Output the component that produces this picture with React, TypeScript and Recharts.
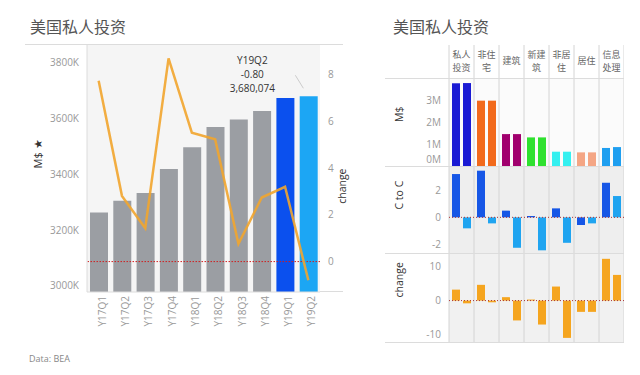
import { ComposedChart, BarChart, Bar, Line, XAxis, YAxis, CartesianGrid, ReferenceLine, ReferenceDot, Cell } from 'recharts';

// left chart: private investment level (K$) and q/q change
const quarters = ['Y17Q1', 'Y17Q2', 'Y17Q3', 'Y17Q4', 'Y18Q1', 'Y18Q2', 'Y18Q3', 'Y18Q4', 'Y19Q1', 'Y19Q2'];
const investmentK = [3263, 3305, 3333, 3419, 3497, 3570, 3597, 3627, 3674, 3680.074];
const changeRate = [7.73, 2.81, 1.43, 8.69, 5.51, 5.23, 0.76, 2.74, 3.2, -0.8];
const quarterColors = ['#9b9ea3', '#9b9ea3', '#9b9ea3', '#9b9ea3', '#9b9ea3', '#9b9ea3', '#9b9ea3', '#9b9ea3', '#0b50ee', '#1ca6f4'];
const leftTicks = [3000, 3200, 3400, 3600, 3800];
const rightTicks = [0, 2, 4, 6, 8];

// right panel: segments, previous quarter vs last quarter
const segments = ['私人投资', '非住宅', '建筑', '新建筑', '非居住', '居住', '信息处理'];
const segmentColors = ['#1b1bd4', '#f26a1c', '#a1006e', '#2fe12f', '#35f0f0', '#f4a685', '#1f9ff0'];
const levelPrev = [3.76, 2.97, 1.45, 1.3, 0.65, 0.62, 0.82];
const levelLast = [3.77, 2.97, 1.45, 1.3, 0.65, 0.62, 0.86];
const ctocPrev = [3.23, 3.48, 0.5, 0.1, 0.67, -0.57, 2.58];
const ctocLast = [-0.82, -0.45, -2.27, -2.46, -1.9, -0.45, 1.59];
const changePrev = [3.2, 4.6, 1.0, 0.3, 4.1, -3.3, 12.2];
const changeLast = [-0.8, -0.5, -5.8, -7.0, -10.9, -3.3, 7.5];

const FONT = "'Open Sans', 'Noto Sans', sans-serif";
const CJK = "'Noto Sans CJK SC', sans-serif";
const tickStyle = { fontSize: 10, fill: '#999', fontFamily: FONT };

const leftData = quarters.map((q, i) => ({ q, inv: investmentK[i], chg: changeRate[i] }));
const levelData = segments.map((s, i) => ({ s, a: levelPrev[i], b: levelLast[i] }));
const ctocData = segments.map((s, i) => ({ s, a: ctocPrev[i], b: ctocLast[i] }));
const changeData = segments.map((s, i) => ({ s, a: changePrev[i], b: changeLast[i] }));

const PANEL_W = 239;
const AXIS_W = 64;
const COL_W = (PANEL_W - AXIS_W) / segments.length;
const colLines = segments.map((_, i) => AXIS_W + i * COL_W).concat([PANEL_W]);

const Annotation = ({ viewBox }: any) => {
  const x = viewBox.x + viewBox.width / 2;
  const y = viewBox.y + viewBox.height / 2;
  const last = quarters.length - 1;
  const cx = x - 56;
  return (
    <g fontFamily={FONT} fontSize={10} fill="#333" textAnchor="middle">
      <text x={cx} y={y - 32}>{quarters[last]}</text>
      <text x={cx} y={y - 18}>{changeRate[last].toFixed(2)}</text>
      <text x={cx} y={y - 4}>{Math.round(investmentK[last] * 1000).toLocaleString('en-US')}</text>
      <line x1={x - 13} y1={y - 21} x2={x - 5} y2={y - 8} stroke="#ccc" />
    </g>
  );
};

const HeaderTick = ({ x, payload, index }: any) => {
  const name: string = payload.value;
  const lines = name.length > 2 ? [name.slice(0, 2), name.slice(2)] : [name];
  return (
    <g>
      <line x1={x - COL_W / 2} x2={x - COL_W / 2} y1={0} y2={33} stroke="#d4d4d4" />
      {index === segments.length - 1 && (
        <line x1={x + COL_W / 2} x2={x + COL_W / 2} y1={0} y2={33} stroke="#d4d4d4" />
      )}
      {lines.length === 1 ? (
        <text x={x} y={19} textAnchor="middle" fontSize={9} fill="#666" fontFamily={CJK}>{lines[0]}</text>
      ) : (
        lines.map((l, i) => (
          <text key={i} x={x} y={13 + i * 13} textAnchor="middle" fontSize={9} fill="#666" fontFamily={CJK}>{l}</text>
        ))
      )}
    </g>
  );
};

const SideTick = ({ x, y, payload, unit, lift }: any) => {
  const shift = lift && payload.value === 0 ? -7 : 0;
  return (
    <text x={x} y={y + shift} dy={3.5} textAnchor="end" fontSize={10} fill="#999" fontFamily={FONT}>
      {payload.value}{unit || ''}
    </text>
  );
};

function SmallRow({ data, top, height, label, domain, ticks, colorsA, colorsB, unit, header, zeroLine, bg }: any) {
  return (
    <div style={{ position: 'absolute', left: 385, top }}>
      <BarChart width={PANEL_W} height={height} data={data} margin={{ top: 0, right: 0, bottom: 0, left: 0 }} barGap={3}>
        <CartesianGrid horizontal={false} verticalPoints={colLines} stroke="#d4d4d4" fill={bg} />
        <XAxis dataKey="s" orientation="top" hide={!header} height={33} axisLine={false} tickLine={false} interval={0} tick={<HeaderTick />} />
        <YAxis
          width={AXIS_W}
          domain={domain}
          ticks={ticks}
          axisLine={false}
          tickLine={false}
          interval={0}
          tick={<SideTick unit={unit} lift={unit === 'M'} />}
          label={{ value: label, angle: -90, position: 'insideLeft', offset: 14, fontSize: 10.5, fill: '#333', fontFamily: FONT }}
        />
        {zeroLine && <ReferenceLine y={0} stroke="#a33" strokeDasharray="1 2" />}
        <Bar dataKey="a" barSize={8} isAnimationActive={false}>
          {data.map((_: any, i: number) => <Cell key={i} fill={colorsA[i]} />)}
        </Bar>
        <Bar dataKey="b" barSize={8} isAnimationActive={false}>
          {data.map((_: any, i: number) => <Cell key={i} fill={colorsB[i]} />)}
        </Bar>
      </BarChart>
    </div>
  );
}

const hline = (left: number, top: number, width: number) => (
  <div style={{ position: 'absolute', left, top, width, height: 1, background: '#dcdcdc' }} />
);

export default function App() {
  const blueA = segments.map(() => '#1656e6');
  const blueB = segments.map(() => '#1fa4f0');
  const orange = segments.map(() => '#f5a51f');
  return (
    <div style={{ position: 'absolute', left: 0, top: 0, width: 640, height: 375, background: '#fff', overflow: 'hidden' }}>
      <div style={{ position: 'absolute', left: 30, top: 14, fontSize: 16, color: '#555', fontFamily: CJK }}>美国私人投资</div>
      <div style={{ position: 'absolute', left: 393, top: 14, fontSize: 16, color: '#555', fontFamily: CJK }}>美国私人投资</div>
      {hline(25, 44, 318)}

      <div style={{ position: 'absolute', left: 0, top: 0 }}>
        <ComposedChart width={350} height={345} data={leftData} margin={{ top: 45, right: 0, bottom: 0, left: 0 }}>
          <CartesianGrid horizontal={false} vertical={false} fill="#f5f5f5" />
          <XAxis
            dataKey="q"
            height={53}
            interval={0}
            axisLine={{ stroke: '#dcdcdc' }}
            tickLine={false}
            tickSize={2}
            tickMargin={2}
            tick={{ ...tickStyle, angle: -90, textAnchor: 'end', verticalAnchor: 'middle' } as any}
          />
          <YAxis
            yAxisId="left"
            width={87}
            domain={[2978, 3864]}
            ticks={leftTicks}
            allowDataOverflow
            axisLine={{ stroke: '#dcdcdc' }}
            tickLine={false}
            tick={tickStyle}
            tickFormatter={(v: number) => `${v}K`}
            label={{ value: 'M$ ★', angle: -90, position: 'insideLeft', offset: 38, fontSize: 11, fill: '#333', fontFamily: FONT }}
          />
          <YAxis
            yAxisId="right"
            orientation="right"
            width={30}
            domain={[-1.3, 9.26]}
            ticks={rightTicks}
            allowDataOverflow
            axisLine={false}
            tickLine={false}
            tick={{ ...tickStyle, textAnchor: 'start' } as any}
            label={{ value: 'change', angle: -90, position: 'insideRight', offset: 8, fontSize: 10.5, fill: '#333', fontFamily: FONT }}
          />
          <Bar yAxisId="left" dataKey="inv" barSize={18} isAnimationActive={false}>
            {leftData.map((_, i) => <Cell key={i} fill={quarterColors[i]} />)}
          </Bar>
          <ReferenceLine yAxisId="right" y={0} stroke="#d02020" strokeDasharray="1.5 1.5" />
          <Line yAxisId="right" dataKey="chg" stroke="#f2a52e" strokeWidth={2.5} strokeOpacity={0.9} dot={false} isAnimationActive={false} />
          <ReferenceDot yAxisId="left" x={quarters[quarters.length - 1]} y={investmentK[investmentK.length - 1]} r={0} label={<Annotation />} />
        </ComposedChart>
      </div>
      {hline(320, 291, 23)}

      <div style={{ position: 'absolute', left: 29, top: 352, fontSize: 9, color: '#888', fontFamily: FONT }}>Data: BEA</div>

      <SmallRow data={levelData} top={45} height={121} label="M$" domain={[0, 4.0]} ticks={[0, 1, 2, 3]} colorsA={segmentColors} colorsB={segmentColors} unit="M" header bg="#fbfbfb" />
      <SmallRow data={ctocData} top={166} height={87} label="C to C" domain={[-2.66, 3.83]} ticks={[-2, 0, 2]} colorsA={blueA} colorsB={blueB} zeroLine bg="#eeeeee" />
      <SmallRow data={changeData} top={253} height={89} label="change" domain={[-12.1, 13.9]} ticks={[-10, 0, 10]} colorsA={orange} colorsB={orange} zeroLine bg="#f1f1f1" />
      {hline(385, 78, PANEL_W)}
      {hline(385, 166, PANEL_W)}
      {hline(385, 253, PANEL_W)}
      {hline(385, 342, PANEL_W)}
    </div>
  );
}
